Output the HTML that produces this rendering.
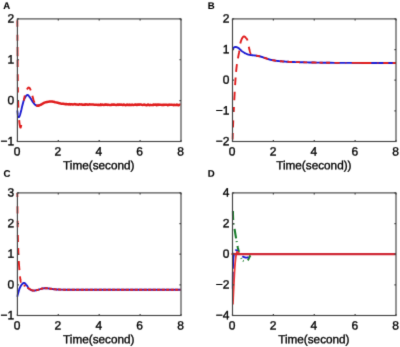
<!DOCTYPE html><html><head><meta charset="utf-8"><style>html,body{margin:0;padding:0;background:#fff;}svg{display:block;}</style></head><body>
<svg width="400" height="347" viewBox="0 0 400 347">
<defs><filter id="soft" x="0" y="0" width="400" height="347" filterUnits="userSpaceOnUse" color-interpolation-filters="sRGB"><feConvolveMatrix order="3" kernelMatrix="0.0113 0.0838 0.0113 0.0838 0.6193 0.0838 0.0113 0.0838 0.0113" edgeMode="duplicate"/></filter></defs>
<rect width="400" height="347" fill="#fff"/>
<g filter="url(#soft)">
<clipPath id="cA"><rect x="16.2" y="17.9" width="166.0" height="124.6"/></clipPath>
<g clip-path="url(#cA)" fill="none" stroke-linejoin="round" stroke-linecap="butt">
<path d="M17.30,110.50 L17.33,110.74 L17.36,111.04 L17.40,111.41 L17.44,111.82 L17.49,112.26 L17.54,112.72 L17.60,113.20 L17.66,113.66 L17.71,114.10 L17.78,114.52 L17.84,114.89 L17.90,115.20 L17.96,115.47 L18.03,115.74 L18.10,115.98 L18.17,116.21 L18.24,116.43 L18.32,116.62 L18.40,116.79 L18.47,116.93 L18.55,117.04 L18.63,117.13 L18.72,117.18 L18.80,117.20 L18.88,117.18 L18.97,117.14 L19.05,117.06 L19.14,116.95 L19.23,116.81 L19.32,116.65 L19.41,116.46 L19.50,116.25 L19.60,116.02 L19.70,115.76 L19.80,115.49 L19.90,115.20 L20.01,114.88 L20.12,114.53 L20.23,114.14 L20.34,113.73 L20.46,113.29 L20.58,112.84 L20.70,112.37 L20.82,111.90 L20.94,111.42 L21.06,110.94 L21.18,110.46 L21.30,110.00 L21.42,109.54 L21.53,109.07 L21.64,108.59 L21.75,108.10 L21.86,107.62 L21.98,107.12 L22.09,106.63 L22.20,106.14 L22.32,105.65 L22.44,105.16 L22.57,104.68 L22.70,104.20 L22.83,103.72 L22.97,103.23 L23.10,102.74 L23.23,102.24 L23.37,101.75 L23.51,101.26 L23.66,100.78 L23.81,100.31 L23.97,99.85 L24.14,99.42 L24.31,99.00 L24.50,98.60 L24.70,98.21 L24.91,97.81 L25.13,97.42 L25.36,97.03 L25.60,96.65 L25.84,96.29 L26.09,95.97 L26.34,95.67 L26.58,95.42 L26.83,95.22 L27.07,95.08 L27.30,95.00 L27.53,94.99 L27.75,95.04 L27.98,95.14 L28.20,95.30 L28.42,95.50 L28.64,95.73 L28.86,95.99 L29.08,96.28 L29.31,96.58 L29.53,96.89 L29.76,97.20 L30.00,97.50 L30.24,97.82 L30.49,98.18 L30.74,98.56 L31.00,98.97 L31.25,99.40 L31.51,99.83 L31.77,100.26 L32.03,100.69 L32.28,101.11 L32.53,101.50 L32.77,101.87 L33.00,102.20 L33.23,102.51 L33.45,102.80 L33.67,103.09 L33.89,103.36 L34.10,103.61 L34.31,103.86 L34.52,104.09 L34.72,104.30 L34.92,104.50 L35.12,104.68 L35.31,104.85 L35.50,105.00 L35.68,105.13 L35.84,105.25 L36.00,105.34 L36.15,105.43 L36.29,105.49 L36.44,105.54 L36.59,105.58 L36.74,105.61 L36.91,105.62 L37.09,105.62 L37.28,105.62 L37.50,105.60 L37.75,105.56 L38.04,105.50 L38.35,105.42 L38.69,105.32 L39.03,105.21 L39.38,105.09 L39.71,104.97 L40.04,104.85 L40.34,104.74 L40.60,104.64 L40.83,104.56 L41.00,104.50" stroke="#1c1cd2" stroke-width="1.9"/>
<path d="M17.30,18.90 L17.31,20.37 L17.32,22.18 L17.33,24.28 L17.34,26.63 L17.36,29.20 L17.38,31.95 L17.39,34.84 L17.41,37.82 L17.43,40.87 L17.45,43.94 L17.48,47.00 L17.50,50.00 L17.53,53.08 L17.55,56.36 L17.58,59.80 L17.61,63.34 L17.64,66.95 L17.67,70.57 L17.70,74.16 L17.74,77.67 L17.77,81.06 L17.81,84.27 L17.86,87.27 L17.90,90.00 L17.95,92.50 L18.00,94.82 L18.05,97.00 L18.10,99.04 L18.16,100.95 L18.21,102.75 L18.27,104.45 L18.33,106.07 L18.40,107.62 L18.46,109.12 L18.53,110.57 L18.60,112.00 L18.67,113.38 L18.75,114.68 L18.83,115.90 L18.91,117.05 L19.00,118.13 L19.08,119.15 L19.17,120.10 L19.26,120.99 L19.34,121.83 L19.43,122.60 L19.52,123.33 L19.60,124.00 L19.68,124.62 L19.77,125.19 L19.85,125.71 L19.93,126.16 L20.02,126.56 L20.10,126.90 L20.18,127.18 L20.27,127.39 L20.35,127.54 L20.43,127.63 L20.52,127.65 L20.60,127.60 L20.68,127.48 L20.77,127.28 L20.85,127.02 L20.93,126.69 L21.01,126.29 L21.09,125.84 L21.18,125.32 L21.26,124.76 L21.34,124.14 L21.43,123.47 L21.51,122.76 L21.60,122.00 L21.69,121.17 L21.77,120.25 L21.85,119.25 L21.93,118.18 L22.02,117.06 L22.10,115.90 L22.19,114.72 L22.28,113.53 L22.37,112.35 L22.48,111.19 L22.58,110.07 L22.70,109.00 L22.82,107.95 L22.95,106.89 L23.08,105.82 L23.22,104.76 L23.36,103.70 L23.51,102.66 L23.66,101.63 L23.82,100.63 L23.98,99.66 L24.15,98.73 L24.32,97.84 L24.50,97.00 L24.69,96.20 L24.88,95.42 L25.09,94.68 L25.30,93.96 L25.52,93.27 L25.74,92.62 L25.96,92.00 L26.18,91.42 L26.39,90.88 L26.60,90.37 L26.81,89.91 L27.00,89.50 L27.18,89.13 L27.36,88.80 L27.54,88.51 L27.70,88.26 L27.87,88.04 L28.03,87.87 L28.19,87.73 L28.35,87.63 L28.51,87.57 L28.67,87.55 L28.83,87.55 L29.00,87.60 L29.16,87.68 L29.32,87.79 L29.48,87.93 L29.64,88.11 L29.79,88.33 L29.95,88.58 L30.11,88.88 L30.27,89.21 L30.44,89.59 L30.62,90.01 L30.81,90.48 L31.00,91.00 L31.21,91.60 L31.43,92.30 L31.65,93.08 L31.89,93.93 L32.13,94.81 L32.38,95.72 L32.62,96.64 L32.87,97.54 L33.11,98.41 L33.35,99.22 L33.58,99.96 L33.80,100.60 L34.02,101.17 L34.25,101.71 L34.48,102.21 L34.72,102.67 L34.95,103.10 L35.17,103.50 L35.39,103.86 L35.59,104.19 L35.78,104.49 L35.94,104.76 L36.09,104.99 L36.20,105.20" stroke="#e01c1c" stroke-width="1.9" stroke-dasharray="0.00 1.47 6.26 8.20 6.03 6.13 9.36 3.44 7.15 7.21 6.90 6.21 5.23 8.46 6.68 12.50 10.80 24.27 5.31 6.30 6.48 5.47 7.35 1002.93"/>
<path d="M36.2,105.20 L36.9,105.47 L37.6,105.68 L38.3,105.68 L39.0,105.50 L39.7,105.21 L40.4,104.89 L41.1,104.55 L41.8,104.16 L42.5,103.73 L43.2,103.31 L43.9,102.94 L44.6,102.64 L45.3,102.41 L46.0,102.22 L46.7,102.06 L47.4,101.91 L48.1,101.79 L48.8,101.68 L49.5,101.59 L50.2,101.53 L50.9,101.52 L51.6,101.50 L52.3,101.59 L53.0,101.74 L53.7,101.81 L54.4,102.03 L55.1,102.24 L55.8,102.39 L56.5,102.50 L57.2,102.59 L57.9,102.84 L58.6,102.98 L59.3,103.18 L60.0,103.30 L60.7,103.61 L61.4,103.72 L62.1,103.63 L62.8,103.84 L63.5,103.79 L64.2,103.95 L64.9,103.97 L65.6,104.18 L66.3,104.07 L67.0,104.16 L67.7,104.35 L68.4,104.19 L69.1,104.54 L69.8,104.07 L70.5,104.48 L71.2,104.28 L71.9,104.30 L72.6,104.46 L73.3,104.40 L74.0,104.34 L74.7,104.06 L75.4,104.14 L76.1,104.58 L76.8,104.47 L77.5,104.60 L78.2,104.79 L78.9,104.61 L79.6,104.17 L80.3,104.36 L81.0,104.57 L81.7,104.33 L82.4,104.85 L83.1,104.84 L83.8,104.78 L84.5,104.52 L85.2,104.79 L85.9,104.30 L86.6,104.43 L87.3,104.55 L88.0,104.75 L88.7,104.58 L89.4,104.34 L90.1,104.49 L90.8,104.49 L91.5,104.48 L92.2,104.39 L92.9,104.57 L93.6,104.60 L94.3,104.83 L95.0,104.86 L95.7,104.67 L96.4,104.63 L97.1,104.86 L97.8,104.95 L98.5,104.80 L99.2,104.90 L99.9,105.00 L100.6,104.38 L101.3,104.97 L102.0,104.55 L102.7,104.70 L103.4,104.93 L104.1,104.88 L104.8,104.48 L105.5,104.84 L106.2,104.44 L106.9,104.64 L107.6,104.96 L108.3,104.70 L109.0,104.82 L109.7,104.92 L110.4,104.99 L111.1,104.95 L111.8,104.42 L112.5,104.71 L113.2,104.75 L113.9,104.47 L114.6,104.81 L115.3,104.86 L116.0,105.02 L116.7,105.10 L117.4,104.53 L118.1,104.60 L118.8,104.91 L119.5,104.54 L120.2,104.61 L120.9,104.86 L121.6,104.57 L122.3,105.00 L123.0,105.06 L123.7,104.48 L124.4,104.84 L125.1,105.02 L125.8,105.15 L126.5,104.66 L127.2,104.59 L127.9,105.08 L128.6,105.11 L129.3,104.61 L130.0,104.78 L130.7,104.98 L131.4,105.07 L132.1,104.60 L132.8,104.95 L133.5,105.05 L134.2,104.87 L134.9,104.60 L135.6,104.51 L136.3,104.68 L137.0,105.05 L137.7,104.52 L138.4,104.50 L139.1,104.75 L139.8,104.54 L140.5,104.60 L141.2,104.51 L141.9,104.86 L142.6,104.99 L143.3,104.80 L144.0,104.59 L144.7,104.73 L145.4,104.92 L146.1,105.16 L146.8,105.20 L147.5,104.67 L148.2,104.51 L148.9,105.09 L149.6,105.16 L150.3,104.83 L151.0,105.05 L151.7,105.12 L152.4,104.94 L153.1,105.12 L153.8,104.53 L154.5,104.71 L155.2,104.71 L155.9,104.60 L156.6,105.16 L157.3,104.54 L158.0,104.99 L158.7,104.57 L159.4,104.77 L160.1,104.82 L160.8,104.65 L161.5,104.89 L162.2,104.90 L162.9,104.75 L163.6,105.04 L164.3,104.64 L165.0,104.66 L165.7,104.78 L166.4,104.80 L167.1,104.68 L167.8,105.18 L168.5,105.11 L169.2,104.61 L169.9,104.79 L170.6,104.70 L171.3,104.85 L172.0,104.73 L172.7,104.89 L173.4,105.19 L174.1,104.81 L174.8,105.00 L175.5,104.96 L176.2,105.07 L176.9,104.59 L177.6,105.07 L178.3,105.21 L179.0,104.97 L179.7,104.75 L180.4,105.02" stroke="#e01c1c" stroke-width="2.5"/>
</g>
<rect x="17.4" y="18.9" width="163.6" height="122.6" fill="none" stroke="#444" stroke-width="1.15"/>
<path d="M17.40,141.5v-1.6M17.40,18.9v1.6M58.30,141.5v-1.6M58.30,18.9v1.6M99.20,141.5v-1.6M99.20,18.9v1.6M140.10,141.5v-1.6M140.10,18.9v1.6M181.00,141.5v-1.6M181.00,18.9v1.6M17.4,141.50h1.6M181.0,141.50h-1.6M17.4,100.63h1.6M181.0,100.63h-1.6M17.4,59.77h1.6M181.0,59.77h-1.6M17.4,18.90h1.6M181.0,18.90h-1.6" stroke="#444" stroke-width="1.2" fill="none"/>
<g font-family="Liberation Sans, Arial, sans-serif" font-size="12.0" fill="#000" stroke="#000" stroke-width="0.35">
<text x="17.00" y="155.40" text-anchor="middle" transform="rotate(0.05 17.00 155.40)">0</text>
<text x="57.90" y="155.40" text-anchor="middle" transform="rotate(0.05 57.90 155.40)">2</text>
<text x="98.80" y="155.40" text-anchor="middle" transform="rotate(0.05 98.80 155.40)">4</text>
<text x="139.70" y="155.40" text-anchor="middle" transform="rotate(0.05 139.70 155.40)">6</text>
<text x="180.60" y="155.40" text-anchor="middle" transform="rotate(0.05 180.60 155.40)">8</text>
<text x="14.30" y="145.15" text-anchor="end" transform="rotate(0.05 14.30 145.15)">−1</text>
<text x="14.30" y="104.28" text-anchor="end" transform="rotate(0.05 14.30 104.28)">0</text>
<text x="14.30" y="63.42" text-anchor="end" transform="rotate(0.05 14.30 63.42)">1</text>
<text x="14.30" y="22.55" text-anchor="end" transform="rotate(0.05 14.30 22.55)">2</text>
<text x="98.80" y="169.20" font-size="11.75" text-anchor="middle" transform="rotate(0.05 99.20 169.20)">Time(second)</text>
</g>
<text x="3.3" y="9.0" transform="rotate(0.05 3.3 9.0)" font-family="Liberation Sans, Arial, sans-serif" font-size="9.6" font-weight="bold" fill="#000" stroke="#000" stroke-width="0.1">A</text>
<clipPath id="cB"><rect x="231.3" y="17.9" width="165.9" height="124.6"/></clipPath>
<g clip-path="url(#cB)" fill="none" stroke-linejoin="round" stroke-linecap="butt">
<path d="M232.50,49.20 L232.57,49.11 L232.66,49.00 L232.76,48.87 L232.87,48.71 L233.00,48.55 L233.13,48.38 L233.27,48.21 L233.41,48.04 L233.56,47.88 L233.71,47.73 L233.86,47.61 L234.00,47.50 L234.14,47.41 L234.29,47.33 L234.43,47.25 L234.58,47.19 L234.73,47.13 L234.88,47.08 L235.04,47.03 L235.20,47.00 L235.37,46.98 L235.54,46.98 L235.72,46.98 L235.90,47.00 L236.09,47.03 L236.28,47.06 L236.47,47.11 L236.67,47.16 L236.87,47.23 L237.07,47.31 L237.29,47.40 L237.51,47.50 L237.74,47.63 L237.98,47.77 L238.24,47.92 L238.50,48.10 L238.78,48.30 L239.06,48.54 L239.36,48.80 L239.66,49.09 L239.97,49.38 L240.29,49.69 L240.62,50.01 L240.96,50.33 L241.31,50.64 L241.67,50.94 L242.03,51.23 L242.40,51.50 L242.78,51.76 L243.19,52.02 L243.60,52.29 L244.03,52.55 L244.47,52.81 L244.91,53.06 L245.36,53.30 L245.80,53.53 L246.24,53.75 L246.67,53.95 L247.09,54.14 L247.50,54.30 L247.90,54.44 L248.30,54.57 L248.70,54.67 L249.10,54.76 L249.49,54.84 L249.88,54.91 L250.26,54.96 L250.63,55.01 L250.99,55.06 L251.34,55.11 L251.68,55.15 L252.00,55.20 L252.30,55.24 L252.56,55.28 L252.81,55.30 L253.04,55.32 L253.26,55.34 L253.47,55.35 L253.68,55.36 L253.91,55.38 L254.14,55.40 L254.40,55.42 L254.68,55.46 L255.00,55.50 L255.35,55.55 L255.72,55.61 L256.11,55.67 L256.52,55.73 L256.94,55.80 L257.38,55.87 L257.82,55.94 L258.26,56.03 L258.70,56.11 L259.14,56.20 L259.58,56.30 L260.00,56.40 L260.42,56.51 L260.83,56.63 L261.25,56.75 L261.67,56.88 L262.08,57.02 L262.50,57.16 L262.92,57.30 L263.33,57.44 L263.75,57.58 L264.17,57.73 L264.58,57.86 L265.00,58.00 L265.42,58.14 L265.83,58.27 L266.25,58.41 L266.67,58.56 L267.08,58.70 L267.50,58.84 L267.92,58.98 L268.33,59.11 L268.75,59.24 L269.17,59.37 L269.58,59.49 L270.00,59.60 L270.42,59.71 L270.83,59.81 L271.25,59.90 L271.67,59.99 L272.08,60.08 L272.50,60.16 L272.92,60.24 L273.33,60.32 L273.75,60.39 L274.17,60.46 L274.58,60.53 L275.00,60.60 L275.40,60.66 L275.78,60.72 L276.13,60.78 L276.48,60.83 L276.83,60.87 L277.19,60.92 L277.56,60.96 L277.96,61.01 L278.40,61.05 L278.88,61.10 L279.41,61.15 L280.00,61.20 L280.66,61.26 L281.38,61.32 L282.15,61.38 L282.96,61.44 L283.81,61.50 L284.69,61.57 L285.58,61.63 L286.48,61.69 L287.38,61.75 L288.28,61.81 L289.15,61.86 L290.00,61.90 L290.77,61.94 L291.44,61.97 L292.03,62.00 L292.59,62.02 L293.15,62.04 L293.75,62.06 L294.42,62.07 L295.19,62.09 L296.09,62.11 L297.18,62.14 L298.47,62.17 L300.00,62.20 L301.69,62.24 L303.43,62.29 L305.25,62.34 L307.19,62.39 L309.26,62.45 L311.50,62.51 L313.94,62.56 L316.59,62.62 L319.50,62.67 L322.69,62.72 L326.18,62.76 L330.00,62.80 L334.45,62.83 L339.68,62.86 L345.52,62.88 L351.78,62.90 L358.29,62.92 L364.88,62.94 L371.36,62.95 L377.56,62.96 L383.30,62.97 L388.40,62.98 L392.70,62.99 L396.00,63.00" stroke="#1c1cd2" stroke-width="1.9"/>
<path d="M232.50,141.50 L232.53,140.56 L232.57,139.38 L232.62,138.01 L232.67,136.46 L232.73,134.78 L232.79,133.00 L232.85,131.15 L232.92,129.26 L232.99,127.37 L233.06,125.50 L233.13,123.70 L233.20,122.00 L233.27,120.35 L233.35,118.70 L233.43,117.04 L233.51,115.37 L233.59,113.70 L233.68,112.03 L233.76,110.36 L233.85,108.69 L233.94,107.01 L234.02,105.34 L234.11,103.67 L234.20,102.00 L234.29,100.32 L234.37,98.62 L234.46,96.91 L234.55,95.19 L234.64,93.46 L234.72,91.75 L234.82,90.05 L234.91,88.37 L235.00,86.72 L235.10,85.10 L235.20,83.53 L235.30,82.00 L235.41,80.50 L235.51,79.02 L235.63,77.55 L235.74,76.11 L235.86,74.69 L235.98,73.31 L236.09,71.96 L236.21,70.66 L236.34,69.41 L236.46,68.21 L236.58,67.07 L236.70,66.00 L236.82,65.00 L236.95,64.07 L237.08,63.21 L237.21,62.40 L237.34,61.64 L237.47,60.92 L237.60,60.24 L237.73,59.59 L237.85,58.95 L237.97,58.33 L238.09,57.72 L238.20,57.10 L238.31,56.50 L238.41,55.95 L238.51,55.43 L238.60,54.94 L238.69,54.47 L238.78,54.01 L238.87,53.56 L238.96,53.10 L239.04,52.64 L239.13,52.15 L239.21,51.64 L239.30,51.10 L239.38,50.52 L239.46,49.91 L239.54,49.27 L239.61,48.62 L239.69,47.96 L239.76,47.29 L239.84,46.63 L239.92,45.98 L240.00,45.34 L240.09,44.73 L240.19,44.15 L240.30,43.60 L240.42,43.08 L240.54,42.58 L240.67,42.09 L240.80,41.61 L240.94,41.15 L241.09,40.71 L241.23,40.29 L241.39,39.89 L241.54,39.51 L241.69,39.15 L241.85,38.81 L242.00,38.50 L242.16,38.21 L242.31,37.93 L242.47,37.67 L242.64,37.43 L242.80,37.21 L242.97,37.02 L243.14,36.85 L243.31,36.70 L243.48,36.58 L243.65,36.49 L243.83,36.43 L244.00,36.40 L244.18,36.41 L244.37,36.47 L244.56,36.57 L244.75,36.70 L244.95,36.85 L245.14,37.03 L245.34,37.22 L245.53,37.43 L245.71,37.63 L245.88,37.83 L246.05,38.02 L246.20,38.20 L246.34,38.36 L246.47,38.49 L246.59,38.62 L246.70,38.75 L246.81,38.88 L246.91,39.01 L247.00,39.17 L247.10,39.34 L247.20,39.55 L247.29,39.79 L247.39,40.07 L247.50,40.40 L247.61,40.79 L247.71,41.23 L247.82,41.71 L247.92,42.24 L248.03,42.79 L248.13,43.36 L248.24,43.95 L248.34,44.54 L248.45,45.13 L248.57,45.71 L248.68,46.27 L248.80,46.80 L248.92,47.33 L249.04,47.87 L249.17,48.42 L249.29,48.97 L249.42,49.52 L249.55,50.06 L249.68,50.59 L249.82,51.10 L249.96,51.58 L250.10,52.02 L250.25,52.43 L250.40,52.80 L250.56,53.12 L250.72,53.41 L250.88,53.66 L251.05,53.88 L251.22,54.07 L251.39,54.24 L251.57,54.40 L251.75,54.53 L251.94,54.66 L252.12,54.78 L252.31,54.89 L252.50,55.00 L252.69,55.10 L252.86,55.18 L253.04,55.24 L253.21,55.28 L253.39,55.31 L253.57,55.33 L253.76,55.35 L253.97,55.37 L254.19,55.39 L254.43,55.41 L254.70,55.45 L255.00,55.50 L255.33,55.56 L255.69,55.62 L256.07,55.68 L256.48,55.74 L256.91,55.81 L257.34,55.88 L257.79,55.96 L258.24,56.03 L258.69,56.12 L259.14,56.20 L259.58,56.30 L260.00,56.40 L260.42,56.51 L260.83,56.63 L261.25,56.75 L261.67,56.88 L262.08,57.02 L262.50,57.16 L262.92,57.30 L263.33,57.44 L263.75,57.58 L264.17,57.73 L264.58,57.86 L265.00,58.00 L265.42,58.14 L265.83,58.27 L266.25,58.41 L266.67,58.56 L267.08,58.70 L267.50,58.84 L267.92,58.98 L268.33,59.11 L268.75,59.24 L269.17,59.37 L269.58,59.49 L270.00,59.60 L270.42,59.71 L270.83,59.81 L271.25,59.90 L271.67,59.99 L272.08,60.08 L272.50,60.16 L272.92,60.24 L273.33,60.32 L273.75,60.39 L274.17,60.46 L274.58,60.53 L275.00,60.60 L275.40,60.66 L275.78,60.72 L276.13,60.78 L276.48,60.83 L276.83,60.87 L277.19,60.92 L277.56,60.96 L277.96,61.01 L278.40,61.05 L278.88,61.10 L279.41,61.15 L280.00,61.20 L280.66,61.26 L281.38,61.32 L282.15,61.38 L282.96,61.44 L283.81,61.50 L284.69,61.57 L285.58,61.63 L286.48,61.69 L287.38,61.75 L288.28,61.81 L289.15,61.86 L290.00,61.90 L290.77,61.94 L291.44,61.97 L292.03,62.00 L292.59,62.02 L293.15,62.04 L293.75,62.06 L294.42,62.07 L295.19,62.09 L296.09,62.11 L297.18,62.14 L298.47,62.17 L300.00,62.20 L301.69,62.24 L303.43,62.29 L305.25,62.34 L307.19,62.39 L309.26,62.45 L311.50,62.51 L313.94,62.56 L316.59,62.62 L319.50,62.67 L322.69,62.72 L326.18,62.76 L330.00,62.80 L334.45,62.83 L339.68,62.86 L345.52,62.88 L351.78,62.90 L358.29,62.92 L364.88,62.94 L371.36,62.95 L377.56,62.96 L383.30,62.97 L388.40,62.98 L392.70,62.99 L396.00,63.00" stroke="#e01c1c" stroke-width="1.9" stroke-dasharray="0.00 2.12 6.39 5.64 7.02 8.33 5.03 6.70 8.58 6.66 7.57 5.61 7.94 5.83 7.94 6.98 13.90 6.53 7.48 5.51 3.99 3.93 4.39 4.31 4.11 3.89 3.82 3.58 4.65 4.06 3.91 3.43 3.76 4.32 5.09 2.91 3.19 3.49 3.82 4.45 5.23 5.84 0.80 5.46 6.51 0.00 6.59 0.00 6.48 6.20 0.80 4.94 5.11 4.29 3.30 1000.00"/>
</g>
<rect x="232.5" y="18.9" width="163.5" height="122.6" fill="none" stroke="#444" stroke-width="1.15"/>
<path d="M232.50,141.5v-1.6M232.50,18.9v1.6M273.38,141.5v-1.6M273.38,18.9v1.6M314.25,141.5v-1.6M314.25,18.9v1.6M355.12,141.5v-1.6M355.12,18.9v1.6M396.00,141.5v-1.6M396.00,18.9v1.6M232.5,141.50h1.6M396.0,141.50h-1.6M232.5,110.85h1.6M396.0,110.85h-1.6M232.5,80.20h1.6M396.0,80.20h-1.6M232.5,49.55h1.6M396.0,49.55h-1.6M232.5,18.90h1.6M396.0,18.90h-1.6" stroke="#444" stroke-width="1.2" fill="none"/>
<g font-family="Liberation Sans, Arial, sans-serif" font-size="12.0" fill="#000" stroke="#000" stroke-width="0.35">
<text x="232.10" y="155.40" text-anchor="middle" transform="rotate(0.05 232.10 155.40)">0</text>
<text x="272.98" y="155.40" text-anchor="middle" transform="rotate(0.05 272.98 155.40)">2</text>
<text x="313.85" y="155.40" text-anchor="middle" transform="rotate(0.05 313.85 155.40)">4</text>
<text x="354.73" y="155.40" text-anchor="middle" transform="rotate(0.05 354.73 155.40)">6</text>
<text x="395.60" y="155.40" text-anchor="middle" transform="rotate(0.05 395.60 155.40)">8</text>
<text x="229.40" y="145.15" text-anchor="end" transform="rotate(0.05 229.40 145.15)">−2</text>
<text x="229.40" y="114.50" text-anchor="end" transform="rotate(0.05 229.40 114.50)">−1</text>
<text x="229.40" y="83.85" text-anchor="end" transform="rotate(0.05 229.40 83.85)">0</text>
<text x="229.40" y="53.20" text-anchor="end" transform="rotate(0.05 229.40 53.20)">1</text>
<text x="229.40" y="22.55" text-anchor="end" transform="rotate(0.05 229.40 22.55)">2</text>
<text x="313.85" y="169.20" font-size="11.75" text-anchor="middle" transform="rotate(0.05 314.25 169.20)">Time(second))</text>
</g>
<text x="207.7" y="9.0" transform="rotate(0.05 207.7 9.0)" font-family="Liberation Sans, Arial, sans-serif" font-size="9.6" font-weight="bold" fill="#000" stroke="#000" stroke-width="0.1">B</text>
<clipPath id="cC"><rect x="16.2" y="191.9" width="166.0" height="124.6"/></clipPath>
<g clip-path="url(#cC)" fill="none" stroke-linejoin="round" stroke-linecap="butt">
<path d="M17.20,296.70 L17.26,296.47 L17.34,296.18 L17.43,295.84 L17.54,295.46 L17.65,295.04 L17.77,294.60 L17.89,294.15 L18.02,293.69 L18.14,293.24 L18.27,292.80 L18.39,292.38 L18.50,292.00 L18.61,291.64 L18.71,291.29 L18.81,290.94 L18.91,290.60 L19.01,290.26 L19.11,289.93 L19.21,289.60 L19.31,289.27 L19.43,288.95 L19.54,288.63 L19.67,288.31 L19.80,288.00 L19.94,287.68 L20.09,287.37 L20.24,287.05 L20.40,286.73 L20.57,286.41 L20.74,286.10 L20.91,285.80 L21.09,285.51 L21.26,285.23 L21.44,284.97 L21.62,284.72 L21.80,284.50 L21.98,284.29 L22.16,284.08 L22.35,283.88 L22.54,283.69 L22.73,283.51 L22.93,283.35 L23.12,283.21 L23.31,283.09 L23.51,283.00 L23.71,282.93 L23.90,282.90 L24.10,282.90 L24.30,282.94 L24.49,283.02 L24.69,283.13 L24.89,283.27 L25.09,283.44 L25.29,283.62 L25.49,283.83 L25.69,284.05 L25.89,284.28 L26.09,284.52 L26.30,284.76 L26.50,285.00 L26.70,285.25 L26.91,285.54 L27.12,285.84 L27.33,286.16 L27.53,286.49 L27.74,286.83 L27.95,287.17 L28.16,287.49 L28.37,287.81 L28.58,288.10 L28.79,288.37 L29.00,288.60 L29.21,288.81 L29.41,289.00 L29.62,289.17 L29.83,289.33 L30.03,289.47 L30.24,289.60 L30.44,289.72 L30.65,289.83 L30.86,289.93 L31.07,290.03 L31.28,290.12 L31.50,290.20 L31.71,290.28 L31.93,290.35 L32.14,290.41 L32.34,290.47 L32.56,290.51 L32.77,290.55 L32.99,290.58 L33.21,290.60 L33.44,290.61 L33.68,290.62 L33.94,290.61 L34.20,290.60 L34.48,290.58 L34.77,290.54 L35.07,290.49 L35.38,290.44 L35.70,290.37 L36.02,290.30 L36.35,290.22 L36.68,290.14 L37.01,290.06 L37.34,289.97 L37.67,289.88 L38.00,289.80 L38.33,289.71 L38.66,289.61 L38.99,289.51 L39.32,289.40 L39.65,289.29 L39.99,289.18 L40.32,289.06 L40.66,288.96 L41.00,288.85 L41.33,288.76 L41.67,288.67 L42.00,288.60 L42.33,288.54 L42.66,288.48 L42.98,288.42 L43.30,288.37 L43.62,288.33 L43.94,288.29 L44.26,288.26 L44.59,288.23 L44.93,288.21 L45.28,288.20 L45.63,288.20 L46.00,288.20 L46.37,288.21 L46.73,288.24 L47.09,288.27 L47.44,288.32 L47.81,288.37 L48.19,288.43 L48.58,288.49 L49.00,288.55 L49.45,288.61 L49.92,288.68 L50.44,288.74 L51.00,288.80 L51.54,288.86 L52.03,288.93 L52.48,289.00 L52.93,289.07 L53.40,289.15 L53.94,289.23 L54.56,289.30 L55.30,289.37 L56.18,289.44 L57.24,289.50 L58.50,289.55 L60.00,289.60 L61.57,289.64 L63.08,289.67 L64.60,289.70 L66.20,289.72 L67.94,289.74 L69.90,289.75 L72.14,289.76 L74.73,289.77 L77.75,289.78 L81.25,289.79 L85.31,289.79 L90.00,289.80 L95.72,289.81 L102.64,289.81 L110.51,289.81 L119.07,289.81 L128.04,289.81 L137.18,289.81 L146.20,289.81 L154.87,289.81 L162.90,289.80 L170.04,289.80 L176.03,289.80 L180.60,289.80" stroke="#1c1cd2" stroke-width="1.9"/>
<path d="M17.30,192.90 L17.32,194.73 L17.34,197.08 L17.36,199.85 L17.39,202.97 L17.42,206.34 L17.45,209.89 L17.48,213.52 L17.52,217.16 L17.56,220.71 L17.61,224.09 L17.65,227.21 L17.70,230.00 L17.75,232.55 L17.81,235.02 L17.87,237.41 L17.94,239.71 L18.01,241.93 L18.08,244.07 L18.15,246.12 L18.23,248.08 L18.30,249.95 L18.37,251.73 L18.44,253.41 L18.50,255.00 L18.56,256.46 L18.62,257.75 L18.67,258.92 L18.73,259.97 L18.78,260.93 L18.83,261.82 L18.89,262.67 L18.94,263.50 L19.00,264.32 L19.06,265.16 L19.13,266.05 L19.20,267.00 L19.28,268.01 L19.36,269.06 L19.44,270.13 L19.53,271.21 L19.62,272.29 L19.72,273.36 L19.81,274.40 L19.91,275.40 L20.01,276.35 L20.11,277.25 L20.20,278.07 L20.30,278.80 L20.40,279.45 L20.49,280.03 L20.59,280.54 L20.68,281.00 L20.78,281.41 L20.88,281.77 L20.97,282.11 L21.07,282.41 L21.18,282.70 L21.28,282.97 L21.39,283.23 L21.50,283.50 L21.61,283.76 L21.73,283.98 L21.84,284.18 L21.96,284.36 L22.08,284.52 L22.20,284.66 L22.32,284.79 L22.45,284.90 L22.58,285.01 L22.72,285.11 L22.86,285.20 L23.00,285.30 L23.15,285.38 L23.30,285.44 L23.46,285.49 L23.63,285.52 L23.80,285.54 L23.97,285.56 L24.14,285.57 L24.31,285.59 L24.49,285.62 L24.66,285.66 L24.83,285.72 L25.00,285.80 L25.17,285.90 L25.33,286.02 L25.50,286.15 L25.67,286.30 L25.83,286.45 L26.00,286.61 L26.17,286.77 L26.33,286.93 L26.50,287.09 L26.67,287.24 L26.83,287.38 L27.00,287.50 L27.17,287.61 L27.33,287.71 L27.49,287.81 L27.65,287.89 L27.81,287.98 L27.97,288.06 L28.13,288.14 L28.30,288.22 L28.46,288.30 L28.64,288.39 L28.82,288.49 L29.00,288.60 L29.20,288.72 L29.42,288.86 L29.65,289.00 L29.89,289.16 L30.13,289.31 L30.38,289.47 L30.61,289.62 L30.83,289.77 L31.04,289.90 L31.22,290.02 L31.38,290.12 L31.50,290.20" stroke="#e01c1c" stroke-width="1.9" stroke-dasharray="0.00 0.00 4.18 9.26 7.18 7.19 6.51 7.81 6.92 6.15 6.93 5.94 9.22 6.25 6.46 3.93 2.02 2.59 4.68 1000.00"/>
<path d="M31.50,290.20 L31.63,290.22 L31.78,290.26 L31.96,290.30 L32.16,290.35 L32.38,290.40 L32.61,290.45 L32.86,290.50 L33.12,290.54 L33.38,290.57 L33.66,290.60 L33.93,290.61 L34.20,290.60 L34.48,290.58 L34.77,290.54 L35.07,290.49 L35.38,290.44 L35.70,290.37 L36.02,290.30 L36.35,290.22 L36.68,290.14 L37.01,290.06 L37.34,289.97 L37.67,289.88 L38.00,289.80 L38.33,289.71 L38.66,289.61 L38.99,289.51 L39.32,289.40 L39.65,289.29 L39.99,289.18 L40.32,289.06 L40.66,288.96 L41.00,288.85 L41.33,288.76 L41.67,288.67 L42.00,288.60 L42.33,288.54 L42.66,288.48 L42.98,288.42 L43.30,288.37 L43.62,288.33 L43.94,288.29 L44.26,288.26 L44.59,288.23 L44.93,288.21 L45.28,288.20 L45.63,288.20 L46.00,288.20 L46.37,288.21 L46.73,288.24 L47.09,288.27 L47.44,288.32 L47.81,288.37 L48.19,288.43 L48.58,288.49 L49.00,288.55 L49.45,288.61 L49.92,288.68 L50.44,288.74 L51.00,288.80 L51.54,288.86 L52.03,288.93 L52.48,289.00 L52.93,289.07 L53.40,289.15 L53.94,289.23 L54.56,289.30 L55.30,289.37 L56.18,289.44 L57.24,289.50 L58.50,289.55 L60.00,289.60 L61.57,289.64 L63.08,289.67 L64.60,289.70 L66.20,289.72 L67.94,289.74 L69.90,289.75 L72.14,289.76 L74.73,289.77 L77.75,289.78 L81.25,289.79 L85.31,289.79 L90.00,289.80 L95.72,289.81 L102.64,289.81 L110.51,289.81 L119.07,289.81 L128.04,289.81 L137.18,289.81 L146.20,289.81 L154.87,289.81 L162.90,289.80 L170.04,289.80 L176.03,289.80 L180.60,289.80" stroke="#e01c1c" stroke-width="2.0" stroke-dasharray="3.3 1.2"/>
</g>
<rect x="17.4" y="192.9" width="163.6" height="122.6" fill="none" stroke="#444" stroke-width="1.15"/>
<path d="M17.40,315.5v-1.6M17.40,192.9v1.6M58.30,315.5v-1.6M58.30,192.9v1.6M99.20,315.5v-1.6M99.20,192.9v1.6M140.10,315.5v-1.6M140.10,192.9v1.6M181.00,315.5v-1.6M181.00,192.9v1.6M17.4,315.50h1.6M181.0,315.50h-1.6M17.4,284.85h1.6M181.0,284.85h-1.6M17.4,254.20h1.6M181.0,254.20h-1.6M17.4,223.55h1.6M181.0,223.55h-1.6M17.4,192.90h1.6M181.0,192.90h-1.6" stroke="#444" stroke-width="1.2" fill="none"/>
<g font-family="Liberation Sans, Arial, sans-serif" font-size="12.0" fill="#000" stroke="#000" stroke-width="0.35">
<text x="17.00" y="329.40" text-anchor="middle" transform="rotate(0.05 17.00 329.40)">0</text>
<text x="57.90" y="329.40" text-anchor="middle" transform="rotate(0.05 57.90 329.40)">2</text>
<text x="98.80" y="329.40" text-anchor="middle" transform="rotate(0.05 98.80 329.40)">4</text>
<text x="139.70" y="329.40" text-anchor="middle" transform="rotate(0.05 139.70 329.40)">6</text>
<text x="180.60" y="329.40" text-anchor="middle" transform="rotate(0.05 180.60 329.40)">8</text>
<text x="14.30" y="319.15" text-anchor="end" transform="rotate(0.05 14.30 319.15)">−1</text>
<text x="14.30" y="288.50" text-anchor="end" transform="rotate(0.05 14.30 288.50)">0</text>
<text x="14.30" y="257.85" text-anchor="end" transform="rotate(0.05 14.30 257.85)">1</text>
<text x="14.30" y="227.20" text-anchor="end" transform="rotate(0.05 14.30 227.20)">2</text>
<text x="14.30" y="196.55" text-anchor="end" transform="rotate(0.05 14.30 196.55)">3</text>
<text x="98.80" y="343.20" font-size="11.75" text-anchor="middle" transform="rotate(0.05 99.20 343.20)">Time(second)</text>
</g>
<text x="3.6" y="176.8" transform="rotate(0.05 3.6 176.8)" font-family="Liberation Sans, Arial, sans-serif" font-size="9.6" font-weight="bold" fill="#000" stroke="#000" stroke-width="0.1">C</text>
<clipPath id="cD"><rect x="231.3" y="191.9" width="165.9" height="124.6"/></clipPath>
<g clip-path="url(#cD)" fill="none" stroke-linejoin="round" stroke-linecap="butt">
<path d="M232.90,211.00 L232.91,211.45 L232.93,212.03 L232.94,212.71 L232.96,213.48 L232.98,214.31 L233.00,215.19 L233.02,216.08 L233.05,216.96 L233.08,217.82 L233.12,218.63 L233.16,219.36 L233.20,220.00 L233.25,220.55 L233.30,221.03 L233.36,221.46 L233.41,221.85 L233.48,222.21 L233.54,222.56 L233.61,222.91 L233.69,223.26 L233.76,223.63 L233.84,224.04 L233.92,224.49 L234.00,225.00 L234.09,225.56 L234.18,226.17 L234.27,226.81 L234.37,227.48 L234.47,228.17 L234.57,228.88 L234.68,229.59 L234.79,230.30 L234.89,231.00 L235.00,231.69 L235.10,232.36 L235.20,233.00 L235.30,233.62 L235.40,234.24 L235.50,234.84 L235.60,235.44 L235.71,236.04 L235.81,236.62 L235.91,237.20 L236.01,237.78 L236.11,238.34 L236.21,238.90 L236.30,239.45 L236.40,240.00 L236.50,240.54 L236.59,241.08 L236.68,241.61 L236.78,242.13 L236.87,242.65 L236.96,243.16 L237.05,243.66 L237.14,244.15 L237.23,244.63 L237.32,245.10 L237.41,245.56 L237.50,246.00 L237.59,246.43 L237.67,246.85 L237.75,247.25 L237.84,247.65 L237.92,248.03 L238.00,248.41 L238.08,248.77 L238.16,249.13 L238.25,249.48 L238.33,249.83 L238.41,250.16 L238.50,250.50 L238.59,250.83 L238.67,251.14 L238.76,251.43 L238.84,251.72 L238.93,252.00 L239.01,252.28 L239.10,252.56 L239.19,252.83 L239.29,253.11 L239.39,253.40 L239.49,253.69 L239.60,254.00 L239.72,254.32 L239.84,254.65 L239.96,255.00 L240.09,255.35 L240.22,255.70 L240.36,256.06 L240.49,256.41 L240.63,256.75 L240.77,257.09 L240.92,257.41 L241.06,257.71 L241.20,258.00 L241.34,258.27 L241.48,258.54 L241.62,258.80 L241.76,259.05 L241.90,259.29 L242.04,259.52 L242.19,259.74 L242.34,259.95 L242.50,260.14 L242.66,260.31 L242.82,260.46 L243.00,260.60 L243.18,260.72 L243.38,260.81 L243.58,260.89 L243.78,260.96 L243.99,261.00 L244.21,261.04 L244.42,261.06 L244.64,261.07 L244.86,261.06 L245.08,261.05 L245.29,261.03 L245.50,261.00 L245.71,260.96 L245.92,260.92 L246.14,260.87 L246.35,260.81 L246.57,260.75 L246.78,260.66 L246.99,260.57 L247.20,260.45 L247.41,260.32 L247.61,260.17 L247.81,260.00 L248.00,259.80 L248.18,259.57 L248.36,259.29 L248.54,258.98 L248.70,258.64 L248.87,258.29 L249.03,257.93 L249.19,257.56 L249.35,257.20 L249.51,256.86 L249.67,256.54 L249.83,256.25 L250.00,256.00 L250.16,255.79 L250.32,255.59 L250.48,255.41 L250.63,255.26 L250.78,255.11 L250.94,254.98 L251.10,254.86 L251.26,254.76 L251.43,254.66 L251.61,254.57 L251.80,254.48 L252.00,254.40 L251.78,254.33 L250.84,254.27 L249.45,254.23 L247.81,254.19 L246.19,254.17 L244.81,254.15 L243.92,254.14 L243.74,254.13 L244.52,254.12 L246.50,254.12 L249.92,254.11 L255.00,254.10 L262.37,254.09 L272.15,254.08 L283.85,254.08 L297.00,254.08 L311.11,254.08 L325.69,254.08 L340.26,254.08 L354.33,254.09 L367.43,254.09 L379.06,254.10 L388.75,254.10 L396.00,254.10" stroke="#1a7d2c" stroke-width="2.1" stroke-dasharray="0.00 0.00 9.01 3.68 0.87 4.43 9.59 2.77 1.07 3.94 6.75 5.84 0.80 2.39 0.80 4.09 5.60 1162.38"/>
<path d="M232.70,290.00 L232.70,289.42 L232.71,288.69 L232.72,287.84 L232.72,286.89 L232.73,285.85 L232.74,284.75 L232.75,283.61 L232.76,282.44 L232.77,281.28 L232.78,280.14 L232.79,279.04 L232.80,278.00 L232.81,276.99 L232.83,275.95 L232.84,274.91 L232.85,273.85 L232.87,272.80 L232.88,271.75 L232.90,270.72 L232.91,269.70 L232.93,268.72 L232.95,267.77 L232.98,266.86 L233.00,266.00 L233.03,265.18 L233.05,264.40 L233.08,263.64 L233.10,262.92 L233.13,262.22 L233.16,261.55 L233.19,260.90 L233.23,260.28 L233.27,259.68 L233.31,259.10 L233.35,258.54 L233.40,258.00 L233.45,257.48 L233.51,256.99 L233.56,256.52 L233.63,256.07 L233.69,255.65 L233.76,255.25 L233.83,254.87 L233.90,254.50 L233.97,254.16 L234.04,253.82 L234.12,253.51 L234.20,253.20 L234.28,252.91 L234.37,252.64 L234.45,252.39 L234.54,252.15 L234.64,251.93 L234.73,251.73 L234.83,251.54 L234.92,251.37 L235.02,251.21 L235.11,251.06 L235.21,250.93 L235.30,250.80 L235.39,250.69 L235.48,250.59 L235.56,250.50 L235.65,250.43 L235.73,250.37 L235.82,250.33 L235.91,250.29 L236.00,250.27 L236.09,250.26 L236.19,250.26 L236.29,250.28 L236.40,250.30 L236.51,250.33 L236.63,250.38 L236.74,250.44 L236.86,250.51 L236.99,250.59 L237.11,250.68 L237.24,250.79 L237.38,250.90 L237.53,251.03 L237.68,251.18 L237.83,251.33 L238.00,251.50 L238.18,251.69 L238.36,251.91 L238.56,252.14 L238.77,252.40 L238.98,252.67 L239.19,252.94 L239.41,253.22 L239.63,253.50 L239.85,253.77 L240.07,254.03 L240.29,254.28 L240.50,254.50 L240.71,254.71 L240.91,254.91 L241.11,255.11 L241.31,255.31 L241.52,255.49 L241.72,255.68 L241.92,255.85 L242.13,256.01 L242.34,256.17 L242.55,256.32 L242.77,256.47 L243.00,256.60 L243.23,256.73 L243.47,256.85 L243.72,256.96 L243.97,257.07 L244.23,257.18 L244.49,257.27 L244.75,257.35 L245.00,257.43 L245.26,257.49 L245.51,257.54 L245.76,257.58 L246.00,257.60 L246.24,257.61 L246.47,257.61 L246.71,257.59 L246.94,257.56 L247.17,257.52 L247.39,257.48 L247.62,257.42 L247.84,257.35 L248.06,257.27 L248.28,257.19 L248.49,257.10 L248.70,257.00 L248.90,256.89 L249.10,256.76 L249.29,256.62 L249.47,256.46 L249.65,256.30 L249.83,256.13 L250.01,255.96 L250.20,255.79 L250.39,255.63 L250.58,255.47 L250.79,255.33 L251.00,255.20 L250.78,255.08 L249.85,254.96 L248.44,254.85 L246.80,254.74 L245.16,254.64 L243.77,254.54 L242.86,254.44 L242.68,254.36 L243.46,254.28 L245.45,254.21 L248.88,254.15 L254.00,254.10 L261.42,254.06 L271.27,254.04 L283.05,254.02 L296.30,254.02 L310.50,254.02 L325.19,254.03 L339.86,254.04 L354.04,254.06 L367.23,254.07 L378.94,254.09 L388.70,254.10 L396.00,254.10" stroke="#1c1cd2" stroke-width="1.9" stroke-dasharray="0.00 1.31 16.95 3.03 15.90 2.50 2.72 6.86 6.54 1164.89"/>
<path d="M232.90,304.50 L232.93,303.90 L232.96,303.16 L233.01,302.29 L233.05,301.31 L233.10,300.25 L233.16,299.12 L233.21,297.95 L233.27,296.74 L233.33,295.52 L233.39,294.31 L233.44,293.13 L233.50,292.00 L233.55,290.88 L233.61,289.73 L233.67,288.56 L233.73,287.37 L233.78,286.17 L233.84,284.97 L233.90,283.77 L233.96,282.57 L234.02,281.39 L234.08,280.23 L234.14,279.10 L234.20,278.00 L234.26,276.92 L234.32,275.84 L234.37,274.77 L234.43,273.70 L234.49,272.66 L234.54,271.62 L234.60,270.62 L234.66,269.63 L234.72,268.67 L234.78,267.75 L234.84,266.85 L234.90,266.00 L234.96,265.18 L235.03,264.40 L235.09,263.65 L235.16,262.93 L235.22,262.23 L235.29,261.56 L235.35,260.92 L235.42,260.30 L235.49,259.70 L235.56,259.11 L235.63,258.55 L235.70,258.00 L235.77,257.47 L235.85,256.95 L235.92,256.45 L236.00,255.97 L236.07,255.51 L236.15,255.07 L236.23,254.65 L236.30,254.27 L236.38,253.91 L236.45,253.57 L236.53,253.27 L236.60,253.00 L236.67,252.77 L236.74,252.57 L236.80,252.40 L236.87,252.27 L236.93,252.16 L236.99,252.07 L237.06,252.01 L237.12,251.97 L237.19,251.94 L237.26,251.92 L237.33,251.91 L237.40,251.90 L237.47,251.91 L237.55,251.95 L237.62,252.00 L237.70,252.08 L237.77,252.17 L237.85,252.28 L237.93,252.38 L238.01,252.50 L238.10,252.61 L238.20,252.71 L238.30,252.81 L238.40,252.90 L238.50,252.98 L238.59,253.06 L238.68,253.15 L238.76,253.23 L238.85,253.31 L238.95,253.39 L239.06,253.47 L239.19,253.55 L239.35,253.62 L239.53,253.69 L239.75,253.75 L240.00,253.80 L239.83,253.85 L238.95,253.89 L237.59,253.92 L236.01,253.96 L234.45,253.98 L233.16,254.01 L232.39,254.03 L232.39,254.04 L233.40,254.06 L235.68,254.07 L239.46,254.09 L245.00,254.10 L252.95,254.11 L263.47,254.12 L276.02,254.12 L290.11,254.12 L305.21,254.12 L320.81,254.12 L336.39,254.12 L351.44,254.11 L365.45,254.11 L377.88,254.10 L388.24,254.10 L396.00,254.10" stroke="#ee3a3a" stroke-width="1.8"/>
<path d="M239.60,253.95 L239.40,253.96 L238.50,253.97 L237.16,253.98 L235.61,253.99 L234.09,254.01 L232.86,254.02 L232.15,254.04 L232.21,254.06 L233.29,254.07 L235.61,254.08 L239.44,254.09 L245.00,254.10 L252.97,254.11 L263.49,254.11 L276.05,254.11 L290.14,254.11 L305.24,254.11 L320.84,254.11 L336.42,254.11 L351.46,254.11 L365.45,254.10 L377.89,254.10 L388.24,254.10 L396.00,254.10" stroke="#d02836" stroke-width="2.1"/>
</g>
<rect x="232.5" y="192.9" width="163.5" height="122.6" fill="none" stroke="#444" stroke-width="1.15"/>
<path d="M232.50,315.5v-1.6M232.50,192.9v1.6M273.38,315.5v-1.6M273.38,192.9v1.6M314.25,315.5v-1.6M314.25,192.9v1.6M355.12,315.5v-1.6M355.12,192.9v1.6M396.00,315.5v-1.6M396.00,192.9v1.6M232.5,315.50h1.6M396.0,315.50h-1.6M232.5,284.85h1.6M396.0,284.85h-1.6M232.5,254.20h1.6M396.0,254.20h-1.6M232.5,223.55h1.6M396.0,223.55h-1.6M232.5,192.90h1.6M396.0,192.90h-1.6" stroke="#444" stroke-width="1.2" fill="none"/>
<g font-family="Liberation Sans, Arial, sans-serif" font-size="12.0" fill="#000" stroke="#000" stroke-width="0.35">
<text x="232.10" y="329.40" text-anchor="middle" transform="rotate(0.05 232.10 329.40)">0</text>
<text x="272.98" y="329.40" text-anchor="middle" transform="rotate(0.05 272.98 329.40)">2</text>
<text x="313.85" y="329.40" text-anchor="middle" transform="rotate(0.05 313.85 329.40)">4</text>
<text x="354.73" y="329.40" text-anchor="middle" transform="rotate(0.05 354.73 329.40)">6</text>
<text x="395.60" y="329.40" text-anchor="middle" transform="rotate(0.05 395.60 329.40)">8</text>
<text x="229.40" y="319.15" text-anchor="end" transform="rotate(0.05 229.40 319.15)">−4</text>
<text x="229.40" y="288.50" text-anchor="end" transform="rotate(0.05 229.40 288.50)">−2</text>
<text x="229.40" y="257.85" text-anchor="end" transform="rotate(0.05 229.40 257.85)">0</text>
<text x="229.40" y="227.20" text-anchor="end" transform="rotate(0.05 229.40 227.20)">2</text>
<text x="229.40" y="196.55" text-anchor="end" transform="rotate(0.05 229.40 196.55)">4</text>
<text x="313.85" y="343.20" font-size="11.75" text-anchor="middle" transform="rotate(0.05 314.25 343.20)">Time(second)</text>
</g>
<text x="207.7" y="176.8" transform="rotate(0.05 207.7 176.8)" font-family="Liberation Sans, Arial, sans-serif" font-size="9.6" font-weight="bold" fill="#000" stroke="#000" stroke-width="0.1">D</text>
</g></svg></body></html>
